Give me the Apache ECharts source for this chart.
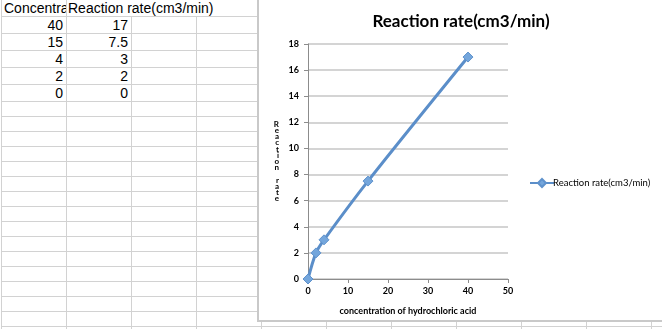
<!DOCTYPE html>
<html>
<head>
<meta charset="utf-8">
<script src="https://cdn.jsdelivr.net/npm/echarts@6/dist/echarts.min.js"></script>
<style>
  html, body { margin: 0; padding: 0; background: #fff; width: 662px; height: 329px; overflow: hidden; }
  #sheet { position: absolute; left: 1px; top: 0; border-collapse: collapse; table-layout: fixed; width: 715px; font-family: "Liberation Sans", Arial, sans-serif; font-size: 14px; color: #000; }
  #sheet td { border: 1px solid #d2d2d2; padding: 0 3px; box-sizing: border-box; white-space: nowrap; overflow: visible; line-height: 14px; }
  #sheet td.num { text-align: right; }
  #frame { position: absolute; left: 257px; top: -2px; width: 405px; height: 324px; background: #fff; border-left: 2px solid #c9c9c9; border-bottom: 2px solid #c9c9c9; box-sizing: border-box; }
  #chart { position: absolute; left: 260px; top: 0; width: 402px; height: 321px; }
</style>
</head>
<body>
<table id="sheet"></table>
<div id="frame"></div>
<div id="chart"></div>
<script>
// ---- data (as in the spreadsheet) ----
var headers = ["Concentra", "Reaction rate(cm3/min)"];
var concentration = [40, 15, 4, 2, 0];
var reactionRate = [17, 7.5, 3, 2, 0];
var seriesName = "Reaction rate(cm3/min)";
var xTicks = [0, 10, 20, 30, 40, 50];
var yTicks = [0, 2, 4, 6, 8, 10, 12, 14, 16, 18];

// ---- spreadsheet grid ----
(function buildSheet() {
  var t = document.getElementById('sheet');
  var nCols = 11;
  var cg = document.createElement('colgroup');
  for (var c = 0; c < nCols; c++) {
    var col = document.createElement('col');
    col.style.width = '65px';
    cg.appendChild(col);
  }
  t.appendChild(cg);
  var hdr = document.createElement('tr');
  hdr.style.height = '16px';
  for (var c = 0; c < nCols; c++) {
    var td = document.createElement('td');
    td.style.height = '16px';
    td.style.borderTop = 'none';
    if (c === 0) { td.textContent = headers[0]; td.style.overflow = 'hidden'; td.style.paddingLeft = '2px'; td.style.paddingRight = '0'; }
    if (c === 1) { td.textContent = headers[1]; td.style.paddingLeft = '1px'; td.style.position = 'relative'; td.style.zIndex = 1; td.style.borderRightColor = 'transparent'; }
    if (c === 2) { td.style.borderRightColor = 'transparent'; }
    hdr.appendChild(td);
  }
  t.appendChild(hdr);
  function addRow(cells, h, numeric) {
    var tr = document.createElement('tr');
    tr.style.height = h + 'px';
    for (var c = 0; c < nCols; c++) {
      var td = document.createElement('td');
      td.style.height = h + 'px';
      if (cells && cells[c] !== undefined) {
        td.textContent = cells[c];
        if (numeric) td.className = 'num';
      }
      tr.appendChild(td);
    }
    t.appendChild(tr);
  }
  for (var i = 0; i < concentration.length; i++) {
    addRow([String(concentration[i]), String(reactionRate[i])], 17, true);
  }
  for (var k = 0; k < 16; k++) addRow(null, 15, false);
})();

// ---- chart ----
var pts = concentration.map(function (x, i) { return [x, reactionRate[i]]; })
  .sort(function (a, b) { return a[0] - b[0]; });

var chart = echarts.init(document.getElementById('chart'), null, { renderer: 'canvas' });
var fam = 'Lato, "Open Sans", sans-serif';
var labelFont = { fontFamily: fam, fontSize: 9, fontWeight: 'bold', color: '#000' };

chart.setOption({
  animation: false,
  backgroundColor: 'transparent',
  title: {
    text: 'Reaction rate(cm3/min)',
    left: 'center',
    top: 8,
    textStyle: { fontFamily: fam, fontSize: 17, fontWeight: 'bold', color: '#000' }
  },
  legend: {
    left: 264,
    top: 173,
    itemWidth: 24,
    itemHeight: 10,
    itemGap: 0,
    data: [seriesName],
    textStyle: { fontFamily: fam, fontSize: 9.5, color: '#000', padding: [0, 0, 0, -6] }
  },
  grid: { left: 48, top: 44, width: 200, height: 235 },
  xAxis: {
    type: 'value',
    min: xTicks[0],
    max: xTicks[xTicks.length - 1],
    interval: 10,
    name: 'concentration of hydrochloric acid',
    nameLocation: 'middle',
    nameGap: 28,
    nameTextStyle: labelFont,
    axisLine: { show: true, lineStyle: { color: '#8c8c8c', width: 1 } },
    axisTick: { show: true, length: 4, lineStyle: { color: '#8c8c8c' } },
    axisLabel: Object.assign({ margin: 8 }, labelFont),
    splitLine: { show: false }
  },
  yAxis: {
    type: 'value',
    min: yTicks[0],
    max: yTicks[yTicks.length - 1],
    interval: 2,
    name: 'Reaction rate'.split('').join('\n'),
    nameLocation: 'middle',
    nameRotate: 0,
    nameGap: 29,
    nameTextStyle: { fontFamily: fam, fontSize: 8, fontWeight: 'bold', color: '#000', lineHeight: 6.2 },
    axisLine: { show: true, lineStyle: { color: '#8c8c8c', width: 1 } },
    axisTick: { show: true, length: 4, lineStyle: { color: '#8c8c8c' } },
    axisLabel: Object.assign({ margin: 9 }, labelFont),
    splitLine: { show: true, lineStyle: { color: '#c6c6c6', width: 1.5 } }
  },
  series: [{
    name: seriesName,
    type: 'line',
    data: pts,
    smooth: 0.3,
    symbol: 'diamond',
    symbolSize: 10,
    lineStyle: { color: '#5b8ec9', width: 3 },
    itemStyle: { color: '#74a6dc', borderColor: '#5f92cc', borderWidth: 1 }
  }]
});
</script>
</body>
</html>
